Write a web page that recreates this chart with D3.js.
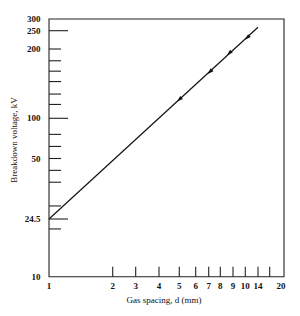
<!DOCTYPE html>
<html>
<head>
<meta charset="utf-8">
<script src="https://cdn.jsdelivr.net/npm/d3@7"></script>
<style>
  body { margin: 0; background: #fff; }
  text { font-family: "Liberation Serif", "DejaVu Serif", serif; fill: #111; }
</style>
</head>
<body>
<div id="chart"></div>
<script>
'use strict';

// x axis: the original scale is hand drawn, so it is a piecewise scale through its ticks
const xTickValues = [1, 2, 3, 4, 5, 6, 7, 8, 9, 10, 14, 17, 20];
const xTickLabels = ['1', '2', '3', '4', '5', '6', '7', '8', '9', '10', '14', '', '20'];
const xTickPixels = [49, 112.7, 135.7, 159, 179.3, 195.7, 208.7, 220.3, 233, 245.3, 258, 269.7, 284];

// y axis: labelled values and their positions, plus unlabelled minor ticks
const yLabelValues = [10, 24.5, 50, 100, 200, 250, 300];
const yLabelPixels = [276.7, 219, 158.5, 118.3, 49, 30.7, 19];
const yLongTicks = [24.5, 100, 250];
const yShortTicks = [22, 30, 40, 45, 50, 65, 80, 120, 135, 153, 168, 183, 200];

// fitted line and measured points (d in mm, V in kV)
const lineD = [1, 14];
const lineV = [24.5, 265];
const pointD = [5, 7.1, 8.7, 10.6];
const pointV = [127, 167, 194, 231];

const width = 300;
const height = 316;

const x = d3.scaleLinear().domain(xTickValues).range(xTickPixels);
const y = d3.scaleLinear().domain(yLabelValues).range(yLabelPixels);

const svg = d3.select('#chart')
  .append('svg')
    .attr('width', width)
    .attr('height', height);

svg.append('rect')
  .attr('width', width)
  .attr('height', height)
  .attr('fill', '#fff');

const x0 = x(1), x1 = x(20), yTop = y(300), yBot = y(10);
const ink = '#222';

// frame
svg.append('path')
  .attr('d', `M${x0},${yTop}V${yBot}H${x1}V${yTop}Z`)
  .attr('fill', 'none')
  .attr('stroke', ink)
  .attr('stroke-width', 1.1);

// y ticks pointing inward
svg.append('g')
  .selectAll('line')
  .data(yShortTicks.map(v => ({v, len: 12})).concat(yLongTicks.map(v => ({v, len: 19}))))
  .join('line')
    .attr('x1', x0)
    .attr('x2', d => x0 + d.len)
    .attr('y1', d => y(d.v))
    .attr('y2', d => y(d.v))
    .attr('stroke', ink)
    .attr('stroke-width', 1.1);

svg.append('g')
  .selectAll('text')
  .data(yLabelValues)
  .join('text')
    .attr('x', 40.5)
    .attr('y', d => y(d) + 3)
    .attr('text-anchor', 'end')
    .attr('font-size', 9)
    .attr('font-weight', 'bold')
    .text(d => d);

// x ticks pointing upward
svg.append('g')
  .selectAll('line')
  .data(xTickValues.filter(v => v > 1 && v < 20))
  .join('line')
    .attr('x1', d => x(d))
    .attr('x2', d => x(d))
    .attr('y1', yBot)
    .attr('y2', yBot - 10)
    .attr('stroke', ink)
    .attr('stroke-width', 1.1);

svg.append('g')
  .selectAll('text')
  .data(xTickValues.map((v, i) => ({v, label: xTickLabels[i]})))
  .join('text')
    .attr('x', d => x(d.v) - (d.v === 20 ? 3 : 0))
    .attr('y', 289)
    .attr('text-anchor', 'middle')
    .attr('font-size', 9)
    .attr('font-weight', 'bold')
    .text(d => d.label);

// fitted line
const line = d3.line().x(d => x(d[0])).y(d => y(d[1]));
svg.append('path')
  .datum(lineD.map((d, i) => [d, lineV[i]]))
  .attr('d', line)
  .attr('fill', 'none')
  .attr('stroke', '#111')
  .attr('stroke-width', 1.2);

// measured points drawn as small arrowheads pointing down the line
const angle = Math.atan2(y(lineV[0]) - y(lineV[1]), x(lineD[0]) - x(lineD[1])) * 180 / Math.PI;
svg.append('g')
  .selectAll('path')
  .data(pointD.map((d, i) => [d, pointV[i]]))
  .join('path')
    .attr('d', 'M3,0L-3,-2L-3,2Z')
    .attr('transform', d => `translate(${x(d[0])},${y(d[1])}) rotate(${angle})`)
    .attr('fill', '#111');

// axis titles
svg.append('text')
  .attr('transform', `translate(17,140) rotate(-90)`)
  .attr('text-anchor', 'middle')
  .attr('font-size', 9)
  .text('Breakdown voltage, kV');

svg.append('text')
  .attr('x', 164)
  .attr('y', 303)
  .attr('text-anchor', 'middle')
  .attr('font-size', 9)
  .text('Gas spacing, d (mm)');
</script>
</body>
</html>
